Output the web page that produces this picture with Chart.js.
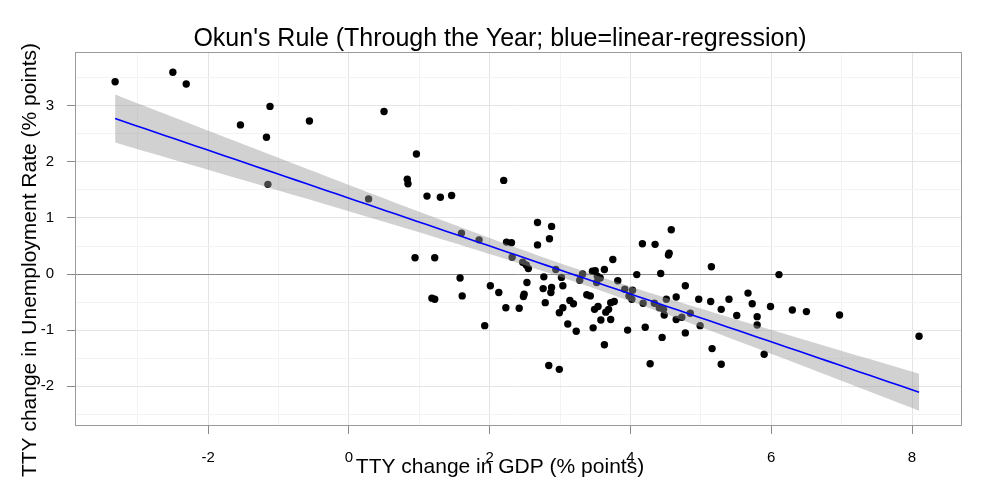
<!DOCTYPE html>
<html><head><meta charset="utf-8">
<script src="https://cdn.jsdelivr.net/npm/chart.js@4"></script>
<style>html,body{margin:0;padding:0;background:#fff}#wrap{width:1000px;height:500px;position:relative}</style>
</head><body><div id="wrap"><canvas id="c"></canvas></div>
<script>
const titleText = "Okun's Rule (Through the Year; blue=linear-regression)";
const xTitle = "TTY change in GDP (% points)";
const yTitle = "TTY change in Unemployment Rate (% points)";
const xTickLabels = [-2, 0, 2, 4, 6, 8];
const yTickLabels = [-2, -1, 0, 1, 2, 3];

const gdpChange = [
 -3.32,-2.50,-2.31,-1.12,-1.54,-0.56,-1.17,-1.15,0.28,0.50,
 0.96,0.83,0.84,1.11,1.30,1.46,2.20,1.60,1.85,2.24,
 2.31,2.68,2.88,2.85,2.68,0.94,1.22,2.32,2.47,2.52,
 2.55,1.58,2.01,2.53,2.77,2.76,2.88,2.94,3.02,3.32,
 3.28,3.46,3.50,3.53,3.57,3.52,3.63,3.75,3.82,1.61,
 1.18,1.22,2.13,2.49,2.48,2.23,2.42,1.93,2.87,3.04,
 2.79,3.14,3.19,3.04,2.99,3.38,3.43,3.11,3.23,3.49,
 3.54,3.58,3.47,3.63,3.72,3.77,3.69,3.65,3.72,2.84,
 2.99,3.92,3.98,4.02,4.03,4.09,4.17,4.35,4.58,4.55,
 4.54,4.43,4.18,4.34,4.41,4.47,4.51,4.48,4.65,4.65,
 4.73,4.78,4.85,4.99,4.97,5.15,5.14,5.29,5.40,5.51,
 5.67,5.73,5.80,5.80,3.96,4.21,4.45,4.78,5.16,5.29,
 4.28,6.11,5.99,6.30,6.50,6.97,8.10,5.90
];
const unempChange = [
 3.43,3.60,3.39,2.99,2.66,2.73,2.44,1.60,1.34,2.90,
 2.14,1.69,1.61,1.39,1.37,1.40,1.67,0.73,0.61,0.57,
 0.56,0.92,0.85,0.63,0.52,0.29,0.29,0.30,0.21,0.16,
 0.10,-0.07,-0.21,-0.15,-0.05,-0.26,-0.24,0.08,-0.06,0.00,
 -0.11,0.05,0.06,-0.04,-0.07,-0.15,0.08,0.26,-0.12,-0.39,
 -0.43,-0.45,-0.33,-0.36,-0.40,-0.60,-0.61,-0.92,-0.33,-0.21,
 -0.51,-0.47,-0.53,-0.60,-0.69,-0.37,-0.39,-0.89,-1.02,-0.63,
 -0.58,-0.82,-0.96,-1.26,-0.51,-0.49,-0.63,-0.68,-0.81,-1.63,
 -1.70,-0.27,-0.39,-0.45,-0.29,-0.01,0.54,0.53,0.79,0.37,
 0.34,0.01,-0.52,-0.52,-0.60,-0.63,-0.45,-0.73,-0.41,-0.81,
 -0.77,-0.21,-0.70,-0.92,-0.45,0.13,-0.49,-0.63,-0.45,-0.74,
 -0.34,-0.53,-0.76,-0.91,-1.00,-0.95,-1.13,-1.05,-1.33,-1.61,
 -1.60,-0.01,-0.58,-0.64,-0.67,-0.73,-1.11,-1.43
];

// ---- linear regression with 95% confidence band (computed from data) ----
const n = gdpChange.length;
const mx = gdpChange.reduce((a,b)=>a+b,0)/n;
const my = unempChange.reduce((a,b)=>a+b,0)/n;
let sxx=0, sxy=0;
for (let i=0;i<n;i++){ sxx+=(gdpChange[i]-mx)**2; sxy+=(gdpChange[i]-mx)*(unempChange[i]-my); }
const slope = sxy/sxx, intercept = my - slope*mx;
let sse=0;
for (let i=0;i<n;i++){ const r=unempChange[i]-(intercept+slope*gdpChange[i]); sse+=r*r; }
const sres = Math.sqrt(sse/(n-2));
const tcrit = 1.979;
const xmin = Math.min(...gdpChange), xmax = Math.max(...gdpChange);
const fitLine=[], bandUpper=[], bandLower=[];
const steps = 80;
for (let k=0;k<=steps;k++){
  const x = xmin + (xmax-xmin)*k/steps;
  const f = intercept + slope*x;
  const se = sres*Math.sqrt(1/n + (x-mx)**2/sxx);
  fitLine.push({x, y:f});
  bandUpper.push({x, y:f+tcrit*se});
  bandLower.push({x, y:f-tcrit*se});
}
const points = gdpChange.map((x,i)=>({x, y:unempChange[i]}));

const FONT = "'Liberation Sans', Arial, Helvetica, sans-serif";

const boxPlugin = {
  id:'box',
  afterDatasetsDraw(chart){
    const {ctx, chartArea:a} = chart;
    ctx.save();
    ctx.strokeStyle = '#9a9a9a';
    ctx.lineWidth = 1;
    ctx.strokeRect(Math.round(a.left)+0.5, Math.round(a.top)+0.5, Math.round(a.right-a.left)-1, Math.round(a.bottom-a.top)-1);
    ctx.restore();
  },
  afterDraw(chart){
    const {ctx} = chart;
    ctx.save();
    ctx.fillStyle = '#000';
    ctx.font = "21px " + FONT;
    ctx.textAlign = 'center';
    ctx.textBaseline = 'middle';
    ctx.fillText(xTitle, 500, 467);
    ctx.translate(30, 260);
    ctx.rotate(-Math.PI/2);
    ctx.fillText(yTitle, 0, 0);
    ctx.restore();
  }
};

new Chart(document.getElementById('c'), {
  type: 'line',
  data: {
    datasets: [
      { type:'line', data: fitLine, borderColor:'#0000ff', borderWidth:1.6, pointRadius:0, fill:false, order:1, tension:0 },
      { type:'line', data: bandUpper, borderWidth:0, borderColor:'rgba(0,0,0,0)', pointRadius:0, backgroundColor:'rgba(153,153,153,0.45)', fill:2, order:2, tension:0 },
      { type:'line', data: bandLower, borderWidth:0, borderColor:'rgba(0,0,0,0)', pointRadius:0, fill:false, order:2, tension:0 },
      { type:'scatter', data: points, backgroundColor:'#000', borderWidth:0, pointRadius:3.7, showLine:false, order:3 }
    ]
  },
  options: {
    responsive: true, maintainAspectRatio: false, animation: false, devicePixelRatio: 1,
    layout: { padding: { left: 19, right: 19, top: 0, bottom: 0 } },
    plugins: {
      legend: { display:false }, tooltip: { enabled:false },
      title: { display:true, text: titleText, color:'#000', font:{ family: FONT, size:25, weight:'normal', lineHeight:1 }, padding:{ top:27, bottom:0 } }
    },
    scales: {
      x: {
        type:'linear', min:-3.89, max:8.71,
        afterFit(s){ s.height = 74; },
        ticks: { stepSize:1, includeBounds:false, autoSkip:false, maxRotation:0, color:'#000', padding:15,
          font:{ family: FONT, size:15 },
          callback:(v)=> xTickLabels.includes(v) ? String(v) : '' },
        grid: { lineWidth:1, tickLength:8, drawTicks:true,
          color:(c)=> (c.tick && xTickLabels.includes(c.tick.value)) ? '#e4e4e4' : '#f3f3f3',
          tickColor:(c)=> (c.tick && xTickLabels.includes(c.tick.value)) ? '#888' : 'rgba(0,0,0,0)' },
        border: { display:false },
        title: { display:false }
      },
      y: {
        type:'linear', min:-2.71, max:3.96,
        afterFit(s){ s.width = 56; },
        ticks: { stepSize:0.5, includeBounds:false, autoSkip:false, color:'#000', padding:13,
          font:{ family: FONT, size:15 },
          callback:(v)=> yTickLabels.includes(v) ? String(v) : '' },
        grid: { lineWidth:1, tickLength:8, drawTicks:true,
          color:(c)=> { if(!c.tick) return '#f3f3f3'; const v=c.tick.value; if (v===0) return '#8a8a8a'; return yTickLabels.includes(v) ? '#e4e4e4' : '#f3f3f3'; },
          tickColor:(c)=> (c.tick && yTickLabels.includes(c.tick.value)) ? '#888' : 'rgba(0,0,0,0)' },
        border: { display:false },
        title: { display:false }
      },
      yRight: {
        type:'linear', position:'right', display:true,
        afterFit(s){ s.width = 19; },
        grid: { display:false, drawTicks:false }, ticks: { display:false }, border: { display:false }, title:{ display:false }
      }
    }
  },
  plugins: [boxPlugin]
});
</script></body></html>
